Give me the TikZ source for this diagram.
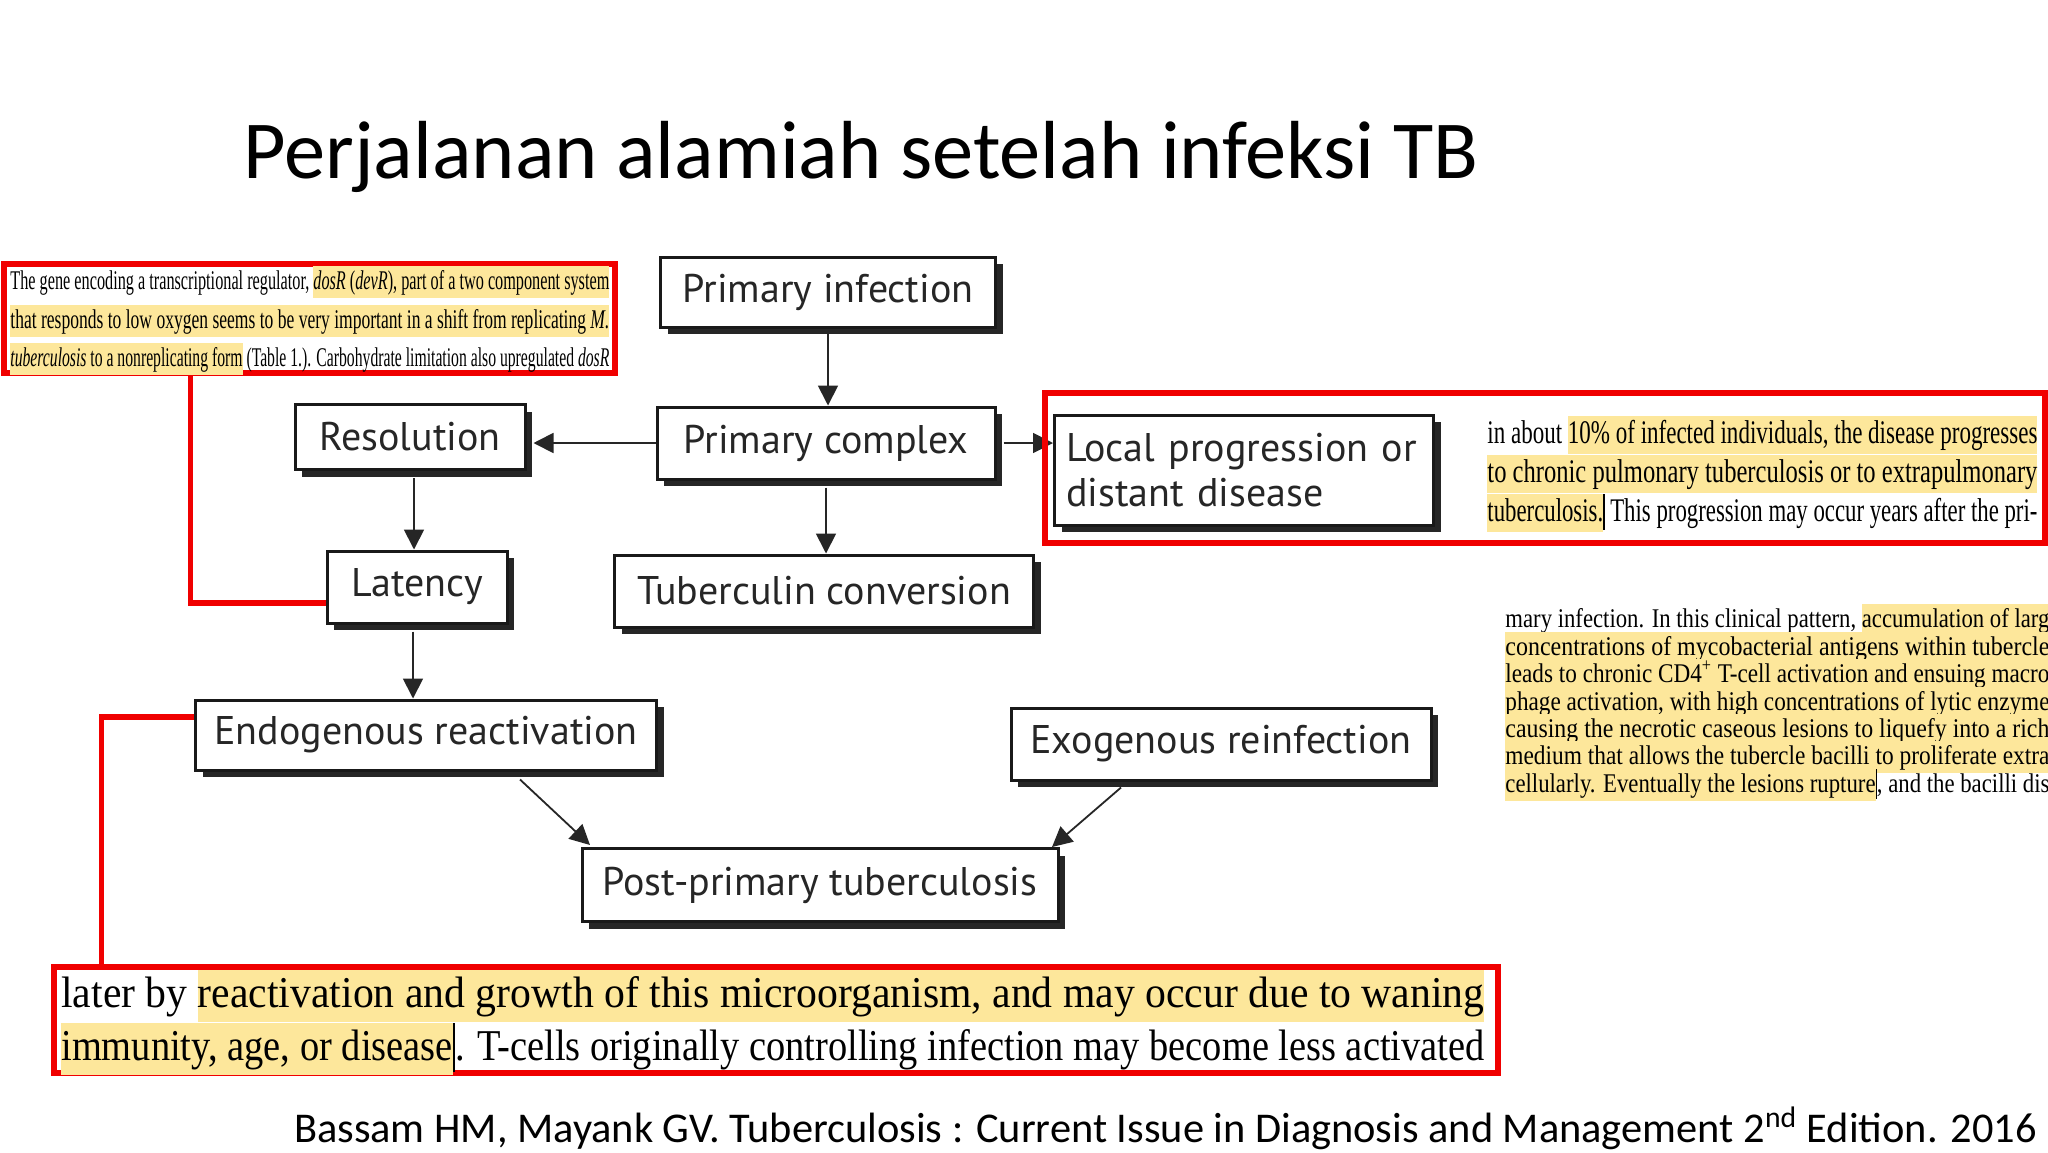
\documentclass[tikz,border=0pt]{standalone}
\usepackage{fontspec}
\usepackage{graphicx}
\setmainfont{Liberation Serif}
\newfontfamily\titlefont{Carlito}
\newfontfamily\boxfont{PT Sans}
\usetikzlibrary{shadows,arrows.meta,calc}
\definecolor{hlc}{RGB}{253,231,155}
\definecolor{redb}{RGB}{240,0,0}
\newcommand\hlt[1]{{\setlength{\fboxsep}{0pt}\colorbox{hlc}{\vrule height 0.85em depth 0.32em width 0pt #1}}}
\newcommand\cursr{\rule[-0.25em]{0.06em}{1.1em}}
\newcommand\fitline[2]{\resizebox{#1}{\height}{#2}}
\tikzset{
  flowbox/.style={draw=black!90, line width=1.5pt, fill=white, inner sep=0pt,
    font=\boxfont\fontsize{20}{22.5}\selectfont, text=black!85,
    drop shadow={shadow xshift=3.5pt, shadow yshift=-3.5pt, fill=black!85, opacity=1}},
  arr/.style={line width=0.9pt, draw=black!85, -{Triangle[length=10pt,width=10pt]}},
  redbox/.style={draw=redb, line width=2.6pt, inner sep=0pt},
  redline/.style={draw=redb, line width=2.6pt},
  txtline/.style={anchor=west, inner sep=0pt},
}
\begin{document}
\begin{tikzpicture}[x=0.5pt,y=-0.5pt]
\useasboundingbox[fill=white] (0,0) rectangle (2048,1152);

% title
\node[inner sep=0pt, font=\titlefont\fontsize{41.2}{46}\selectfont] (title) at (861,157) {Perjalanan alamiah setelah infeksi TB};

% flow boxes
\node[flowbox, minimum width=167.5pt, minimum height=35pt] (pinf) at (828,292) {Primary infection};
\node[flowbox, minimum width=169pt, minimum height=36pt] (pcom) at (826,443) {Primary complex};
\node[flowbox, minimum width=115pt, minimum height=32.5pt] (reso) at (410,437) {Resolution};
\node[flowbox, minimum width=90pt, minimum height=36pt] (lat) at (417,587) {Latency};
\node[flowbox, minimum width=209.5pt, minimum height=36pt] (tub) at (824,591) {Tuberculin conversion};
\node[flowbox, minimum width=189.5pt, minimum height=55pt, text width=178pt, inner xsep=5.75pt, align=left] (loc) at (1244,470) {Local progression or\\distant disease};
\node[flowbox, minimum width=230.5pt, minimum height=35pt] (endo) at (426,735) {Endogenous reactivation};
\node[flowbox, minimum width=210pt, minimum height=36pt] (exo) at (1221,744) {Exogenous reinfection};
\node[flowbox, minimum width=238pt, minimum height=36.5pt] (post) at (820,885) {Post-primary tuberculosis};

% arrows
\draw[arr] (pinf.south) -- (pinf.south |- pcom.north);
\draw[arr] (pcom.west) -- ([xshift=3.5pt]pcom.west -| reso.east);
\draw[arr] ([xshift=3.5pt]pcom.east) -- (pcom.east -| loc.west);
\draw[arr] ([yshift=-3.5pt]pcom.south) -- (pcom.south |- tub.north);
\draw[arr] ([xshift=2pt,yshift=-3.5pt]reso.south) -- ([xshift=2pt]reso.south |- lat.north);
\draw[arr] ([xshift=-2pt,yshift=-3.5pt]lat.south) -- ([xshift=-2pt]lat.south |- endo.north);
\draw[arr] ([xshift=47pt,yshift=-4pt]endo.south) -- ([xshift=-115pt,yshift=1pt]post.north);
\draw[arr] ([xshift=-50pt,yshift=-3pt]exo.south) -- ([xshift=116pt]post.north);

% red boxes
\node[redbox, minimum width=305.5pt, minimum height=54.5pt] (tlbox) at (309.5,318.5) {};
\node[redbox, minimum width=500pt, minimum height=75pt] (midbox) at (1545,468) {};
\node[redbox, minimum width=722pt, minimum height=53pt] (botbox) at (776,1020) {};

% red connectors
\draw[redline] ([xshift=94.5pt]tlbox.south west) |- ([yshift=-8pt]lat.west);
\draw[redline] ([yshift=9pt]endo.west) -| ([xshift=25pt]botbox.north west);

% top-left text
\begin{scope}[every node/.style={txtline}]
\node (tl1) at (10,282) {\fitline{299.5pt}{\fontsize{13.5}{15}\selectfont The gene encoding a transcriptional regulator, \hlt{\textit{dosR} (\textit{devR}), part of a two component system}}};
\node (tl2) at (10,321) {\fitline{299.5pt}{\fontsize{13.5}{15}\selectfont \hlt{that responds to low oxygen seems to be very important in a shift from replicating \textit{M.}}}};
\node (tl3) at (10,359) {\fitline{299.5pt}{\fontsize{13.5}{15}\selectfont \hlt{\textit{tuberculosis} to a nonreplicating form} (Table 1.). Carbohydrate limitation also upregulated \textit{dosR}}};

% middle text
\node (m1) at (1487,435) {\fitline{275pt}{\fontsize{16.5}{18}\selectfont in about \hlt{10\% of infected individuals, the disease progresses}}};
\node (m2) at (1487,474) {\fitline{275pt}{\fontsize{16.5}{18}\selectfont \hlt{to chronic pulmonary tuberculosis or to extrapulmonary}}};
\node (m3) at (1487,513) {\fitline{275pt}{\fontsize{16.5}{18}\selectfont \hlt{tuberculosis.}\cursr{} This progression may occur years after the pri-}};

% bottom text
\node (b1) at (61,996) {\fitline{711.5pt}{\fontsize{22}{24}\selectfont later by \hlt{reactivation and growth of this microorganism, and may occur due to waning}}};
\node (b2) at (61,1049) {\fitline{711.5pt}{\fontsize{22}{24}\selectfont \hlt{immunity, age, or disease}\cursr. T-cells originally controlling infection may become less activated}};

% right text block
\node (r1) at (1505,620) {\fitline{272pt}{\fontsize{13.5}{15}\selectfont mary infection. In this clinical pattern, \hlt{accumulation of larg}}};
\node (r2) at (1505,648) {\fitline{272pt}{\fontsize{13.5}{15}\selectfont \hlt{concentrations of mycobacterial antigens within tubercle}}};
\node (r3) at (1505,675) {\fitline{272pt}{\fontsize{13.5}{15}\selectfont \hlt{leads to chronic CD4\textsuperscript{+} T-cell activation and ensuing macro}}};
\node (r4) at (1505,703) {\fitline{272pt}{\fontsize{13.5}{15}\selectfont \hlt{phage activation, with high concentrations of lytic enzyme}}};
\node (r5) at (1505,730) {\fitline{272pt}{\fontsize{13.5}{15}\selectfont \hlt{causing the necrotic caseous lesions to liquefy into a rich}}};
\node (r6) at (1505,757) {\fitline{272pt}{\fontsize{13.5}{15}\selectfont \hlt{medium that allows the tubercle bacilli to proliferate extra}}};
\node (r7) at (1505,785) {\fitline{272pt}{\fontsize{13.5}{15}\selectfont \hlt{cellularly. Eventually the lesions rupture}\cursr, and the bacilli dis}};
\end{scope}

% citation
\node[inner sep=0pt, anchor=east, font=\titlefont\fontsize{21.2}{24}\selectfont] (cite) at (2037,1128) {Bassam HM, Mayank GV. Tuberculosis : Current Issue in Diagnosis and Management 2\textsuperscript{nd} Edition. 2016};
\end{tikzpicture}
\end{document}
